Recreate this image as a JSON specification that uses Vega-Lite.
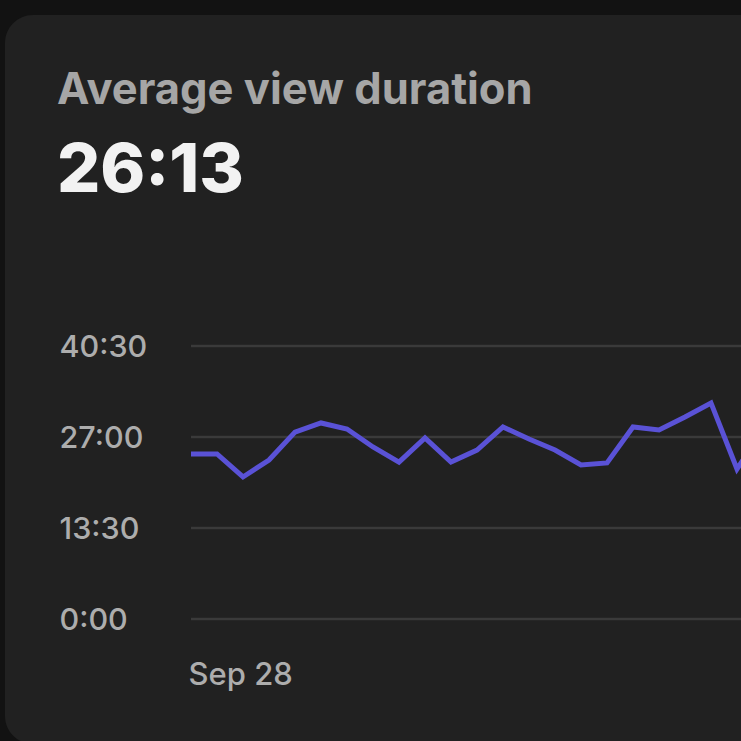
{
  "$schema": "https://vega.github.io/schema/vega-lite/v6.json",
  "width": 775,
  "height": 729,
  "autosize": {"type": "none"},
  "padding": {"left": 5, "top": 15, "right": 0, "bottom": 0},
  "background": "#121212",
  "config": {
    "view": {"fill": "#212121", "stroke": null, "cornerRadius": 28},
    "font": "Inter"
  },
  "title": {
    "text": "Average view duration",
    "subtitle": "26:13",
    "anchor": "start",
    "frame": "group",
    "orient": "top",
    "offset": -192,
    "dx": 52,
    "font": "Inter",
    "fontSize": 43.5,
    "fontWeight": 700,
    "color": "#a6a6a6",
    "subtitleFont": "Inter",
    "subtitleFontSize": 68,
    "subtitleFontWeight": 800,
    "subtitleColor": "#f2f2f2",
    "subtitlePadding": 25
  },
  "datasets": {
    "grid": [{"v": 0}, {"v": 810}, {"v": 1620}, {"v": 2430}],
    "views": [
      {"date": "2024-09-28", "seconds": 1469},
      {"date": "2024-09-29", "seconds": 1469},
      {"date": "2024-09-30", "seconds": 1264},
      {"date": "2024-10-01", "seconds": 1415},
      {"date": "2024-10-02", "seconds": 1664},
      {"date": "2024-10-03", "seconds": 1745},
      {"date": "2024-10-04", "seconds": 1691},
      {"date": "2024-10-05", "seconds": 1531},
      {"date": "2024-10-06", "seconds": 1397},
      {"date": "2024-10-07", "seconds": 1611},
      {"date": "2024-10-08", "seconds": 1397},
      {"date": "2024-10-09", "seconds": 1504},
      {"date": "2024-10-10", "seconds": 1709},
      {"date": "2024-10-11", "seconds": 1602},
      {"date": "2024-10-12", "seconds": 1504},
      {"date": "2024-10-13", "seconds": 1371},
      {"date": "2024-10-14", "seconds": 1389},
      {"date": "2024-10-15", "seconds": 1709},
      {"date": "2024-10-16", "seconds": 1682},
      {"date": "2024-10-17", "seconds": 1798},
      {"date": "2024-10-18", "seconds": 1923},
      {"date": "2024-10-19", "seconds": 1335},
      {"date": "2024-10-20", "seconds": 1682}
    ]
  },
  "layer": [
    {
      "data": {"name": "grid"},
      "mark": {"type": "rule", "color": "#3a3a3a", "strokeWidth": 2.5},
      "encoding": {
        "y": {
          "field": "v",
          "type": "quantitative",
          "scale": {"domain": [-1112.6, 5376], "nice": false, "zero": false}
        },
        "x": {
          "datum": {"year": 2024, "month": 9, "date": 28, "utc": true},
          "type": "temporal",
          "scale": {
            "type": "utc",
            "domain": [
              {"year": 2024, "month": 9, "date": 20, "hours": 20, "minutes": 18, "seconds": 28, "utc": true},
              {"year": 2024, "month": 10, "date": 20, "hours": 15, "minutes": 41, "seconds": 32, "utc": true}
            ]
          }
        },
        "x2": {"datum": {"year": 2024, "month": 10, "date": 20, "hours": 15, "minutes": 41, "seconds": 32, "utc": true}}
      }
    },
    {
      "data": {"name": "views"},
      "mark": {"type": "line", "color": "#5a52d6", "strokeWidth": 5, "clip": true},
      "encoding": {
        "x": {
          "field": "date",
          "type": "temporal",
          "scale": {
            "type": "utc",
            "domain": [
              {"year": 2024, "month": 9, "date": 20, "hours": 20, "minutes": 18, "seconds": 28, "utc": true},
              {"year": 2024, "month": 10, "date": 20, "hours": 15, "minutes": 41, "seconds": 32, "utc": true}
            ]
          },
          "axis": {
            "values": [{"year": 2024, "month": 9, "date": 28, "utc": true}],
            "format": "%b %d",
            "domain": false,
            "ticks": false,
            "tickSize": 0,
            "grid": false,
            "title": null,
            "labelAlign": "left",
            "labelBaseline": "alphabetic",
            "labelPadding": -60,
            "labelOffset": -3,
            "labelFlush": false,
            "labelFont": "Inter",
            "labelFontSize": 31,
            "labelFontWeight": 500,
            "labelColor": "#adadad"
          }
        },
        "y": {
          "field": "seconds",
          "type": "quantitative",
          "scale": {"domain": [-1112.6, 5376], "nice": false, "zero": false},
          "axis": {
            "values": [0, 810, 1620, 2430],
            "labelExpr": "floor(datum.value/60) + ':' + (datum.value % 60 < 10 ? '0' : '') + (datum.value % 60)",
            "domain": false,
            "ticks": false,
            "tickSize": 0,
            "grid": false,
            "title": null,
            "labelAlign": "left",
            "labelBaseline": "middle",
            "labelPadding": -54,
            "labelOffset": 1.5,
            "labelFlush": false,
            "labelOverlap": false,
            "labelFont": "Inter",
            "labelFontSize": 30.5,
            "labelFontWeight": 500,
            "labelColor": "#adadad"
          }
        }
      }
    }
  ]
}
